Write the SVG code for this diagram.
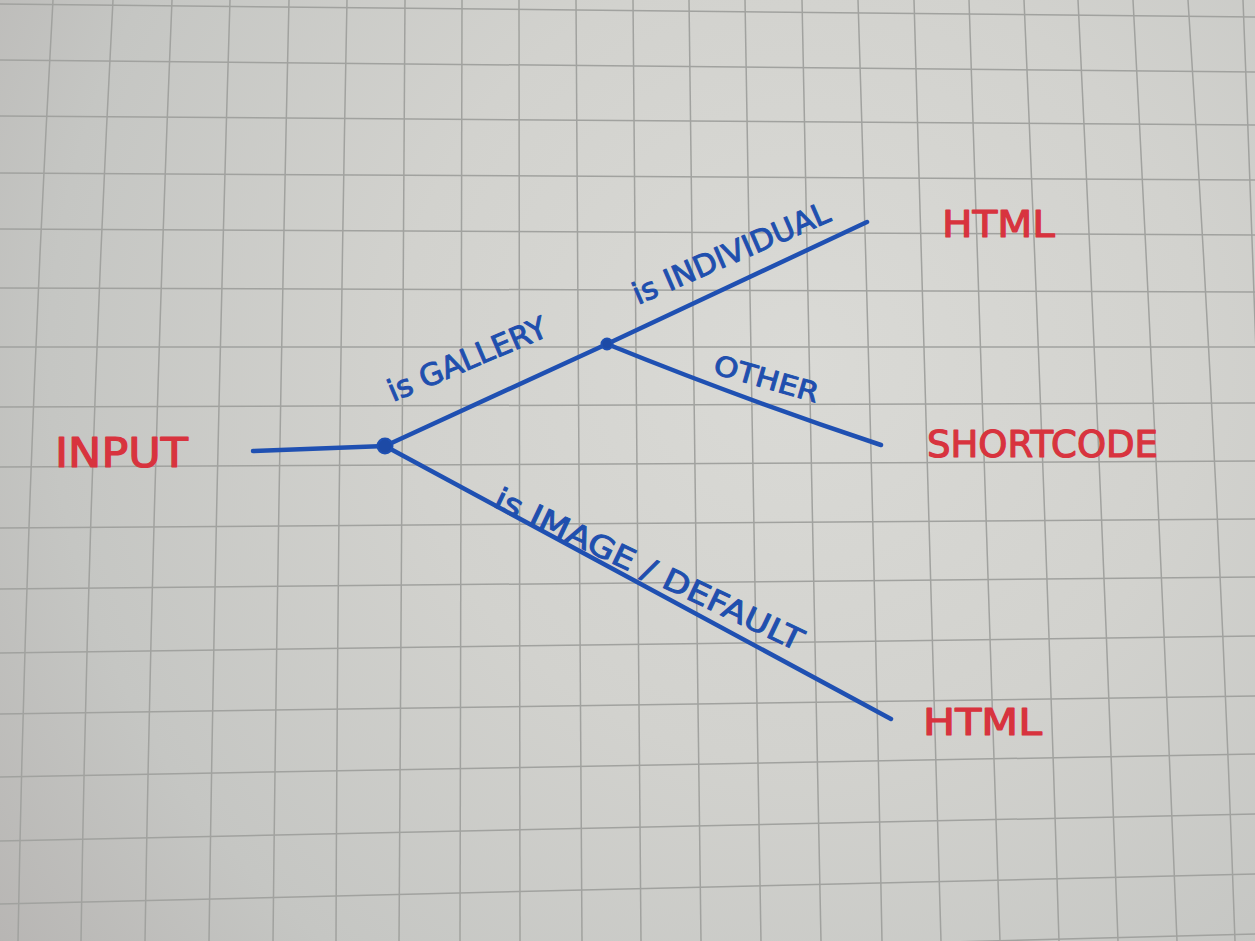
<svg xmlns="http://www.w3.org/2000/svg" width="1255" height="941" viewBox="0 0 1255 941">
  <defs>
    <radialGradient id="paper" cx="800" cy="360" r="1000" gradientUnits="userSpaceOnUse">
      <stop offset="0" stop-color="#dadad6"/>
      <stop offset="0.4" stop-color="#d2d2ce"/>
      <stop offset="0.75" stop-color="#c5c6c3"/>
      <stop offset="1" stop-color="#b7b5b3"/>
    </radialGradient>
  </defs>
  <style>
    .grid path, .grid line { stroke: #a1a29f; stroke-width: 1.5; fill: none; }
    .pen { stroke: #1f50b2; stroke-width: 4.5; stroke-linecap: round; fill: none; }
    .dot { fill: #1d4aa6; stroke: #1f50b2; stroke-width: 2; }
    .red { font-family: "DejaVu Sans", "Liberation Sans", sans-serif; fill: #d8333e; stroke: #d8333e; stroke-width: 1.2; stroke-linejoin: round; }
    .blue { font-family: "DejaVu Sans", "Liberation Sans", sans-serif; fill: #1f4fae; stroke: #1f4fae; stroke-width: 1; stroke-linejoin: round; }
  </style>

  <rect x="0" y="0" width="1255" height="941" fill="url(#paper)"/>

  <g id="grid" class="grid">
    <path d="M53,0 Q26.5,470.5 18,941"/>
    <path d="M113,0 Q88,470.5 81,941"/>
    <path d="M172,0 Q152.5,470.5 145,941"/>
    <path d="M230,0 Q215.5,470.5 209,941"/>
    <path d="M289,0 Q278,470.5 273,941"/>
    <path d="M347,0 Q337.5,470.5 336,941"/>
    <line x1="405" y1="0" x2="399" y2="941"/>
    <line x1="462" y1="0" x2="460" y2="941"/>
    <line x1="519" y1="0" x2="520" y2="941"/>
    <line x1="576" y1="0" x2="582" y2="941"/>
    <line x1="633" y1="0" x2="641" y2="941"/>
    <line x1="689" y1="0" x2="701" y2="941"/>
    <line x1="745" y1="0" x2="761" y2="941"/>
    <line x1="802" y1="0" x2="821" y2="941"/>
    <path d="M858,0 Q873,470.5 882,941"/>
    <path d="M914,0 Q929.5,470.5 941,941"/>
    <path d="M969,0 Q986.5,470.5 1000,941"/>
    <path d="M1024,0 Q1044.5,470.5 1059,941"/>
    <path d="M1078,0 Q1101,470.5 1118,941"/>
    <path d="M1133,0 Q1158,470.5 1177,941"/>
    <path d="M1188,0 Q1218.5,470.5 1235,941"/>
    <path d="M1243,0 Q1261.5,470.5 1274,941"/>
    <line x1="0" y1="4" x2="1255" y2="17"/>
    <line x1="0" y1="60" x2="1255" y2="72"/>
    <line x1="0" y1="116" x2="1255" y2="125"/>
    <line x1="0" y1="173" x2="1255" y2="180"/>
    <line x1="0" y1="229" x2="1255" y2="235"/>
    <line x1="0" y1="288" x2="1255" y2="292"/>
    <line x1="0" y1="347" x2="1255" y2="347"/>
    <line x1="0" y1="407" x2="1255" y2="403"/>
    <line x1="0" y1="467" x2="1255" y2="461"/>
    <line x1="0" y1="528" x2="1255" y2="519"/>
    <line x1="0" y1="589" x2="1255" y2="577"/>
    <line x1="0" y1="653" x2="1255" y2="636"/>
    <line x1="0" y1="714" x2="1255" y2="696"/>
    <line x1="0" y1="777" x2="1255" y2="754"/>
    <line x1="0" y1="841" x2="1255" y2="814"/>
    <line x1="0" y1="904" x2="1255" y2="874"/>
    <line x1="0" y1="967" x2="1255" y2="934"/>
  </g>

  <g id="connectors">
    <path class="pen" d="M253,451 L385,446"/>
    <path class="pen" d="M385,446 L607,344"/>
    <path class="pen" d="M607,344 L867,222"/>
    <path class="pen" d="M607,344 Q740,398 881,445"/>
    <path class="pen" d="M385,446 L891,719"/>
  </g>

  <g id="edge-labels">
    <text class="blue" font-size="30" textLength="170" lengthAdjust="spacingAndGlyphs" transform="translate(393,402) rotate(-23)">is GALLERY</text>
    <text class="blue" font-size="30" textLength="212" lengthAdjust="spacingAndGlyphs" transform="translate(638,305) rotate(-23.5)">is INDIVIDUAL</text>
    <text class="blue" font-size="27" textLength="108" lengthAdjust="spacingAndGlyphs" transform="translate(712,373) rotate(16)">OTHER</text>
    <text class="blue" font-size="30" textLength="338" lengthAdjust="spacingAndGlyphs" transform="translate(492,506) rotate(25.5)">is IMAGE / DEFAULT</text>
  </g>

  <g id="junction-1">
    <circle class="dot" cx="385" cy="446" r="7.5"/>
  </g>
  <g id="junction-2">
    <circle class="dot" cx="607" cy="344" r="5.5"/>
  </g>

  <g id="input">
    <text class="red" x="55" y="467" font-size="40" textLength="133" lengthAdjust="spacingAndGlyphs">INPUT</text>
  </g>
  <g id="html-top">
    <text class="red" x="942" y="237" font-size="38" textLength="113" lengthAdjust="spacingAndGlyphs">HTML</text>
  </g>
  <g id="shortcode">
    <text class="red" x="927" y="457" font-size="37" textLength="231" lengthAdjust="spacingAndGlyphs">SHORTCODE</text>
  </g>
  <g id="html-bottom">
    <text class="red" x="923" y="735" font-size="37" textLength="119" lengthAdjust="spacingAndGlyphs">HTML</text>
  </g>
</svg>
